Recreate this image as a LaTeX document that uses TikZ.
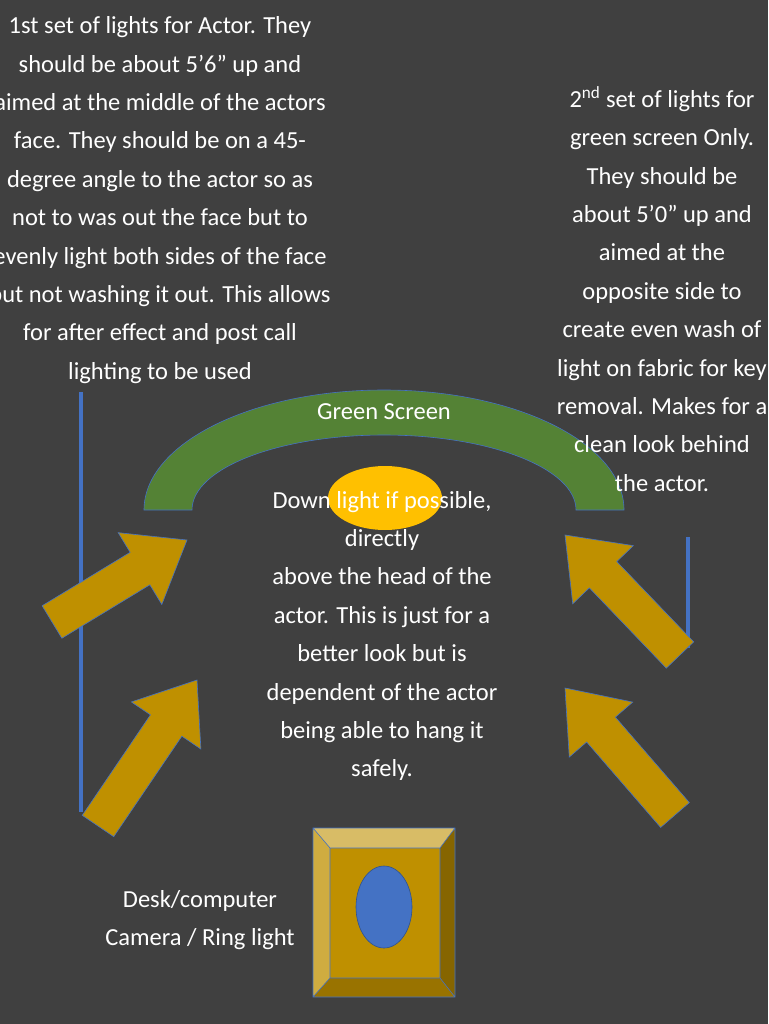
\documentclass[tikz,border=0pt]{standalone}
\usepackage{fontspec}
\setmainfont{Carlito}
\usetikzlibrary{calc}
\definecolor{bg}{HTML}{404040}
\definecolor{gs}{HTML}{548235}
\definecolor{gold}{HTML}{BF9000}
\definecolor{edge}{HTML}{4472C4}
\definecolor{sun}{HTML}{FFC000}
\tikzset{txt/.style={text=white,align=center,font=\fontsize{24.5}{38.4}\selectfont,inner sep=0},
 blk/.style={fill=gold,draw=edge,line width=0.6pt}}
\newcommand{\blockarrow}[3]{%
 \coordinate (#3n) at ($(#2)!55pt!(#1)$);
 \path[blk] ($(#1)!19pt!90:(#2)$) -- ($(#3n)!19pt!-90:(#1)$) -- ($(#3n)!42pt!-90:(#1)$) -- (#2)
  -- ($(#3n)!42pt!90:(#1)$) -- ($(#3n)!19pt!90:(#1)$) -- ($(#1)!19pt!-90:(#2)$) -- cycle;}
\begin{document}
\begin{tikzpicture}[x=1pt,y=-1pt]
\fill[bg] (0,0) rectangle (768,1024);
\useasboundingbox (0,0) rectangle (768,1024);
% green screen
\path[fill=gs,draw=edge,line width=0.6pt] (144,510) arc[start angle=180,end angle=360,x radius=240,y radius=120]
 -- (576,510) arc[start angle=0,end angle=-180,x radius=192,y radius=75] -- cycle;
\node[txt] (gsl) at (384,412) {Green Screen};
\fill[sun] (385,498) ellipse[x radius=57,y radius=32];
\node[txt] (ct) at (382,636) {Down light if possible,\\directly\\above the head of the\\actor. This is just for a\\better look but is\\dependent of the actor\\being able to hang it\\safely.};
\node[txt] (lt) at (160,200) {1st set of lights for Actor. They\\should be about 5’6” up and\\aimed at the middle of the actors\\face. They should be on a 45-\\degree angle to the actor so as\\not to was out the face but to\\evenly light both sides of the face\\but not washing it out. This allows\\for after effect and post call\\lighting to be used};
\node[txt] (rt) at (662,289) {2\textsuperscript{nd} set of lights for\\green screen Only.\\They should be\\about 5’0” up and\\aimed at the\\opposite side to\\create even wash of\\light on fabric for key\\removal. Makes for a\\clean look behind\\the actor.};
% blue lines
\coordinate (l1) at (81,392); \coordinate (l2) at (81,812);
\coordinate (r1) at (688,537); \coordinate (r2) at (688,648);
\draw[edge,line width=4.5pt] (l1) -- (l2);
\draw[edge,line width=4.5pt] (r1) -- (r2);
% arrows
\coordinate (a1) at (52,622); \coordinate (b1) at (187,540);
\coordinate (a2) at (98,826); \coordinate (b2) at (197,680);
\coordinate (a3) at (680,655); \coordinate (b3) at (565,535);
\coordinate (a4) at (675,815); \coordinate (b4) at (565,688);
\blockarrow{a1}{b1}{p}
\blockarrow{a2}{b2}{q}
\blockarrow{a3}{b3}{r}
\blockarrow{a4}{b4}{s}
% desk box
\fill[gold] (313,828) rectangle (455,997);
\fill[gold!60!white] (313,828) -- (455,828) -- (440,848) -- (330,848) -- cycle;
\fill[gold!75!white] (313,828) -- (330,848) -- (330,978) -- (313,997) -- cycle;
\fill[gold!70!black] (455,828) -- (440,848) -- (440,978) -- (455,997) -- cycle;
\fill[gold!80!black] (313,997) -- (330,978) -- (440,978) -- (455,997) -- cycle;
\draw[edge,line width=0.6pt] (313,828) rectangle (455,997) (330,848) rectangle (440,978)
 (313,828) -- (330,848) (455,828) -- (440,848) (313,997) -- (330,978) (455,997) -- (440,978);
\path[fill=edge,draw={rgb,255:red,47;green,82;blue,143},line width=0.6pt] (384,907) ellipse[x radius=28,y radius=41];
\node[txt] (desk) at (200,920) {Desk/computer\\Camera / Ring light};
\end{tikzpicture}
\end{document}
